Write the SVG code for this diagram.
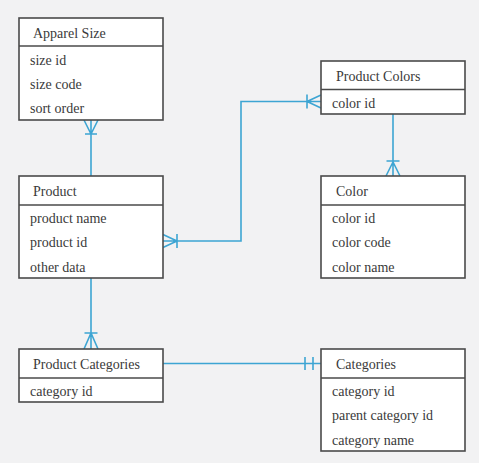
<svg xmlns="http://www.w3.org/2000/svg" width="479" height="463" viewBox="0 0 479 463">
<style>
.box{fill:#fff;stroke:#4a4a4a;stroke-width:1.6}
.div{stroke:#4a4a4a;stroke-width:1.6}
.t{font-family:"Liberation Serif","Times New Roman",serif;font-size:14px;fill:#3a3a3a}
.c{fill:none;stroke:#3da5d3;stroke-width:1.6}
</style>
<rect width="479" height="463" fill="#f2f2f3"/>
<g id="connectors">
<path class="c" d="M91,120 V176 M84,120 L91,134 L98,120 M85,134 H97"/>
<path class="c" d="M163,241 H241 V101.5 H321 M321,95 L307,101.5 L321,108 M307,94.5 V108.5 M163,234.5 L177,241 L163,247.5 M177,234 V248"/>
<path class="c" d="M393,114 V176 M386,176 L393,162 L400,176 M386.5,161 H399.5"/>
<path class="c" d="M91,278 V349 M84,349 L91,333 L98,349 M84.5,333 H97.5"/>
<path class="c" d="M163,363.5 H321 M305,357 V370 M313,357 V370"/>
</g>
<g id="apparel-size">
<rect class="box" x="19" y="18" width="144" height="102"/>
<line class="div" x1="19" y1="46" x2="163" y2="46"/>
<text class="t" x="33" y="37.5">Apparel Size</text>
<text class="t" x="30" y="64.5">size id</text>
<text class="t" x="30" y="88.5">size code</text>
<text class="t" x="30" y="113">sort order</text>
</g>
<g id="product">
<rect class="box" x="19" y="176" width="144" height="102"/>
<line class="div" x1="19" y1="205" x2="163" y2="205"/>
<text class="t" x="33" y="196">Product</text>
<text class="t" x="30" y="223">product name</text>
<text class="t" x="30" y="247">product id</text>
<text class="t" x="30" y="271.5">other data</text>
</g>
<g id="product-colors">
<rect class="box" x="321" y="61" width="144" height="53"/>
<line class="div" x1="321" y1="89.5" x2="465" y2="89.5"/>
<text class="t" x="336" y="80.5">Product Colors</text>
<text class="t" x="332" y="107.5">color id</text>
</g>
<g id="color">
<rect class="box" x="321" y="176" width="144" height="102"/>
<line class="div" x1="321" y1="205" x2="465" y2="205"/>
<text class="t" x="336" y="196">Color</text>
<text class="t" x="332" y="223">color id</text>
<text class="t" x="332" y="247">color code</text>
<text class="t" x="332" y="271.5">color name</text>
</g>
<g id="product-categories">
<rect class="box" x="19" y="349" width="144" height="53"/>
<line class="div" x1="19" y1="378" x2="163" y2="378"/>
<text class="t" x="33" y="369">Product Categories</text>
<text class="t" x="30" y="396">category id</text>
</g>
<g id="categories">
<rect class="box" x="321" y="349" width="144" height="102"/>
<line class="div" x1="321" y1="378" x2="465" y2="378"/>
<text class="t" x="336" y="369">Categories</text>
<text class="t" x="332" y="396">category id</text>
<text class="t" x="332" y="420">parent category id</text>
<text class="t" x="332" y="444.5">category name</text>
</g>
</svg>
